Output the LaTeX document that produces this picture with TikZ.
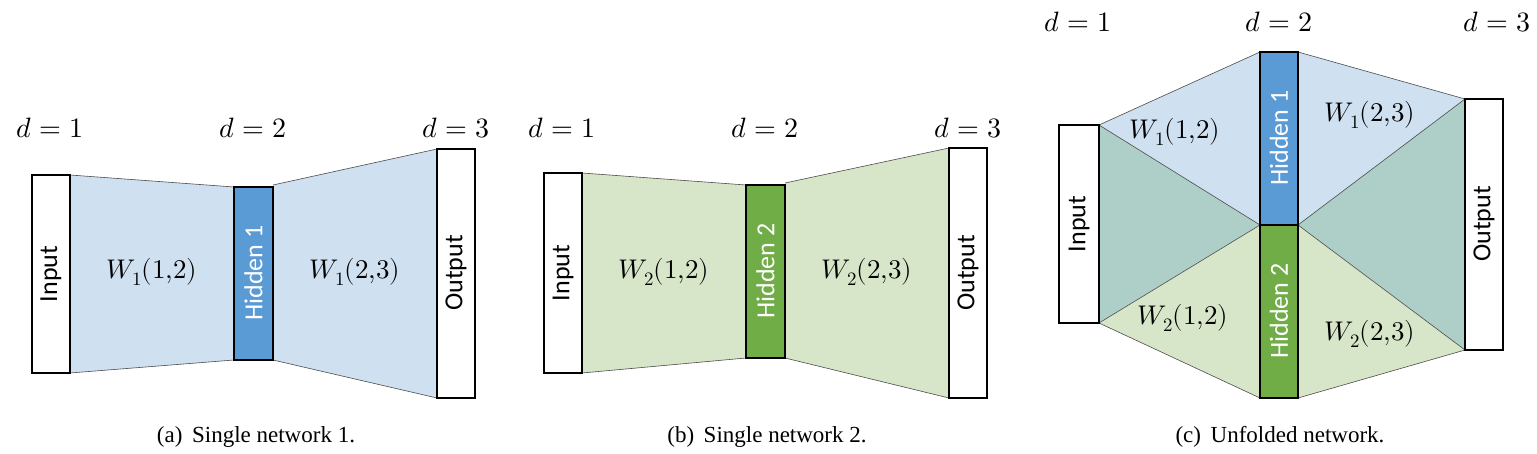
\documentclass[tikz,border=0pt]{standalone}
\usepackage{fontspec}
\setmainfont{Liberation Serif}
\newfontfamily\lblfont{Carlito}
\usepackage{unicode-math}
\setmathfont{Latin Modern Math}
\begin{document}
\begin{tikzpicture}[x=1pt,y=-1pt,
  box/.style={draw=black,line width=1.3pt,fill=white},
  hid1/.style={draw=black,line width=1.3pt,fill=hb},
  hid2/.style={draw=black,line width=1.3pt,fill=hg},
  edge/.style={draw=black!70,line width=0.6pt},
  vt/.style={rotate=90,font=\lblfont\fontsize{26}{28}\selectfont},
  wl/.style={font=\fontsize{27}{29}\selectfont},
  dl/.style={font=\fontsize{28}{30}\selectfont},
  captxt/.style={font=\fontsize{23}{25}\selectfont}]
\definecolor{lb}{HTML}{CFE0F1}
\definecolor{lg}{HTML}{D7E6C8}
\definecolor{tl}{HTML}{AECFC8}
\definecolor{hb}{HTML}{5B9BD5}
\definecolor{hg}{HTML}{70AD47}
\useasboundingbox (0,0) rectangle (1537,454);
% panel a
\fill[lb] (70,175) -- (234,187) -- (234,360) -- (70,373) -- cycle;
\fill[lb] (273,185) -- (437,149) -- (437,398) -- (273,360) -- cycle;
\draw[edge] (70,175) -- (234,187) (70,373) -- (234,360) (273,185) -- (437,149) (273,360) -- (437,398);
\draw[box] (32,175) rectangle (70,373);
\node[vt] (ia) at (51,274) {Input};
\draw[hid1] (234,187) rectangle (273,360);
\node[vt,white] (ha) at (253.5,273) {Hidden 1};
\draw[box] (437,149) rectangle (475,398);
\node[vt] (oa) at (456,273) {Output};
\node[wl] (wa1) at (152,272) {$W_1(1{,}2)$};
\node[wl] (wa2) at (355,272) {$W_1(2{,}3)$};
\node[dl] (da1) at (50,128) {$d=1$};
\node[dl] (da2) at (253,128) {$d=2$};
\node[dl] (da3) at (456,128) {$d=3$};
\node[captxt] (ca) at (256,437) {(a)\, Single network 1.};
% panel b
\fill[lg] (582,173) -- (746,185) -- (746,358) -- (582,373) -- cycle;
\fill[lg] (785,183) -- (949,148) -- (949,398) -- (785,358) -- cycle;
\draw[edge] (582,173) -- (746,185) (582,373) -- (746,358) (785,183) -- (949,148) (785,358) -- (949,398);
\draw[box] (544,173) rectangle (582,373);
\node[vt] (ib) at (563,273) {Input};
\draw[hid2] (746,185) rectangle (785,358);
\node[vt,white] (hb2) at (765.5,271) {Hidden 2};
\draw[box] (949,148) rectangle (987,398);
\node[vt] (ob) at (968,273) {Output};
\node[wl] (wb1) at (664,272) {$W_2(1{,}2)$};
\node[wl] (wb2) at (867,272) {$W_2(2{,}3)$};
\node[dl] (db1) at (562,128) {$d=1$};
\node[dl] (db2) at (765,128) {$d=2$};
\node[dl] (db3) at (968,128) {$d=3$};
\node[captxt] (cb) at (767,437) {(b)\, Single network 2.};
% panel c
\fill[lb] (1099,125) -- (1260,52) -- (1260,225) -- cycle;
\fill[tl] (1099,125) -- (1260,225) -- (1099,323) -- cycle;
\fill[lg] (1099,323) -- (1260,225) -- (1260,398) -- cycle;
\fill[lb] (1298,52) -- (1465,99) -- (1298,225) -- cycle;
\fill[tl] (1465,99) -- (1298,225) -- (1465,350) -- cycle;
\fill[lg] (1298,225) -- (1465,350) -- (1298,398) -- cycle;
\draw[edge] (1099,125) -- (1260,52) (1099,125) -- (1260,225) (1099,323) -- (1260,225) (1099,323) -- (1260,398);
\draw[edge] (1298,52) -- (1465,99) (1298,225) -- (1465,99) (1298,225) -- (1465,350) (1298,398) -- (1465,350);
\draw[box] (1059,125) rectangle (1099,323);
\node[vt] (ic) at (1079,224) {Input};
\draw[hid1] (1260,52) rectangle (1298,225);
\node[vt,white] (hc1) at (1279,138) {Hidden 1};
\draw[hid2] (1260,225) rectangle (1298,398);
\node[vt,white] (hc2) at (1279,311) {Hidden 2};
\draw[box] (1465,99) rectangle (1503,350);
\node[vt] (oc) at (1484,224) {Output};
\node[wl] (wc1) at (1175,132) {$W_1(1{,}2)$};
\node[wl] (wc2) at (1370,115) {$W_1(2{,}3)$};
\node[wl] (wc3) at (1183,318) {$W_2(1{,}2)$};
\node[wl] (wc4) at (1370,334) {$W_2(2{,}3)$};
\node[dl] (dc1) at (1078,22) {$d=1$};
\node[dl] (dc2) at (1279,22) {$d=2$};
\node[dl] (dc3) at (1497,22) {$d=3$};
\node[captxt] (cc) at (1280,437) {(c)\, Unfolded network.};
\end{tikzpicture}
\end{document}
